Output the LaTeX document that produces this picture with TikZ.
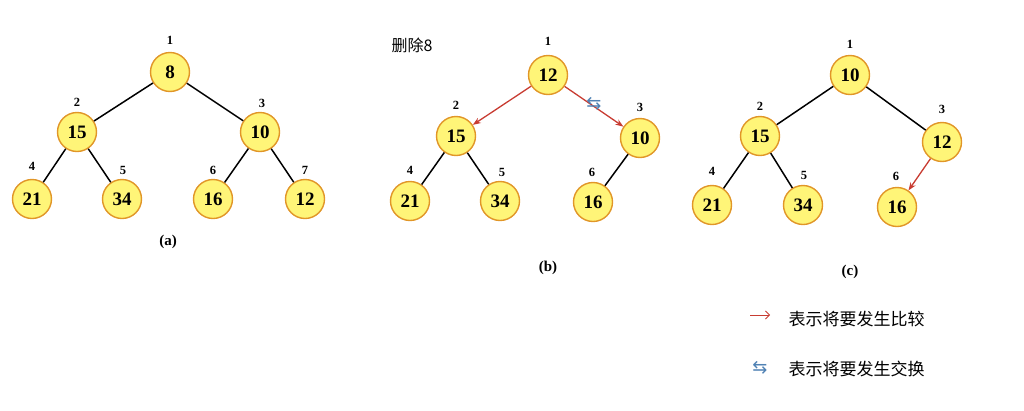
\documentclass[tikz,border=0pt]{standalone}
\usepackage{fontspec}
\setmainfont{Liberation Serif}
\newfontfamily\cjk{Noto Sans CJK SC}
\newfontfamily\djv{DejaVu Sans}
\usetikzlibrary{arrows.meta}
\definecolor{swblue}{RGB}{80,130,180}
\definecolor{cmpred}{RGB}{200,60,50}
\definecolor{nodefill}{RGB}{255,245,120}
\definecolor{nodeedge}{RGB}{225,150,40}
\begin{document}
\begin{tikzpicture}[x=1pt,y=-1pt,
  hn/.style={circle,draw=nodeedge,line width=1.4pt,fill=nodefill,minimum size=39pt,inner sep=0pt,font=\bfseries\fontsize{19}{19}\selectfont},
  lb/.style={font=\bfseries\fontsize{12.5}{12.5}\selectfont},
  ed/.style={line width=1.5pt},
  cmp/.style={line width=1.3pt,draw=cmpred,-{Stealth[length=8pt]}},
  capt/.style={font=\bfseries\fontsize{15}{15}\selectfont},
  swc/.style={font=\djv\fontsize{18}{18}\selectfont,text=swblue},
  leg/.style={font=\cjk\fontsize{17}{17}\selectfont,anchor=west}]
\useasboundingbox (0,0) rectangle (1024,410);
% (a)
\node[hn] (a1) at (170,72) {8};   \node[lb] (a1l) at (170,40) {1};
\node[hn] (a2) at (77,132) {15};  \node[lb] (a2l) at (77,102) {2};
\node[hn] (a3) at (260,132) {10}; \node[lb] (a3l) at (262,103) {3};
\node[hn] (a4) at (32,199) {21};  \node[lb] (a4l) at (32,166) {4};
\node[hn] (a5) at (122,199) {34}; \node[lb] (a5l) at (123,170) {5};
\node[hn] (a6) at (213,199) {16}; \node[lb] (a6l) at (213,170) {6};
\node[hn] (a7) at (305,199) {12}; \node[lb] (a7l) at (305,170) {7};
\draw[ed] (a1)--(a2); \draw[ed] (a1)--(a3);
\draw[ed] (a2)--(a4); \draw[ed] (a2)--(a5);
\draw[ed] (a3)--(a6); \draw[ed] (a3)--(a7);
\node[capt] (ca) at (168,242) {(a)};
% (b)
\node[font=\cjk\fontsize{16}{16}\selectfont] (del) at (412,45) {删除8};
\node[hn] (b1) at (548,75) {12};  \node[lb] (b1l) at (548,41) {1};
\node[hn] (b2) at (456,136) {15}; \node[lb] (b2l) at (456,105) {2};
\node[hn] (b3) at (640,138) {10}; \node[lb] (b3l) at (640,107) {3};
\node[hn] (b4) at (410,201) {21}; \node[lb] (b4l) at (410,170) {4};
\node[hn] (b5) at (500,201) {34}; \node[lb] (b5l) at (502,172) {5};
\node[hn] (b6) at (593,202) {16}; \node[lb] (b6l) at (592,172) {6};
\draw[cmp] (b1)--(b2); \draw[cmp] (b1)--(b3);
\draw[ed] (b2)--(b4); \draw[ed] (b2)--(b5); \draw[ed] (b3)--(b6);
\node[swc] (sw) at (594,104) {⇆};
\node[capt] (cb) at (548,268) {(b)};
% (c)
\node[hn] (c1) at (850,75) {10};  \node[lb] (c1l) at (850,44) {1};
\node[hn] (c2) at (760,136) {15}; \node[lb] (c2l) at (760,106) {2};
\node[hn] (c3) at (942,142) {12}; \node[lb] (c3l) at (942,109) {3};
\node[hn] (c4) at (712,205) {21}; \node[lb] (c4l) at (712,171) {4};
\node[hn] (c5) at (803,205) {34}; \node[lb] (c5l) at (804,175) {5};
\node[hn] (c6) at (897,207) {16}; \node[lb] (c6l) at (896,176) {6};
\draw[ed] (c1)--(c2); \draw[ed] (c1)--(c3);
\draw[ed] (c2)--(c4); \draw[ed] (c2)--(c5);
\draw[cmp] (c3)--(c6);
\node[capt] (cc) at (850,272) {(c)};
% legend
\coordinate (r1) at (750,315); \coordinate (r2) at (770,315);
\draw[cmpred,line width=0.8pt,-{Straight Barb[length=4pt]}] (r1)--(r2);
\node[swc] (lsw) at (760,368) {⇆};
\node[leg] (t1) at (785,319) {表示将要发生比较};
\node[leg] (t2) at (785,369) {表示将要发生交换};
\end{tikzpicture}
\end{document}
